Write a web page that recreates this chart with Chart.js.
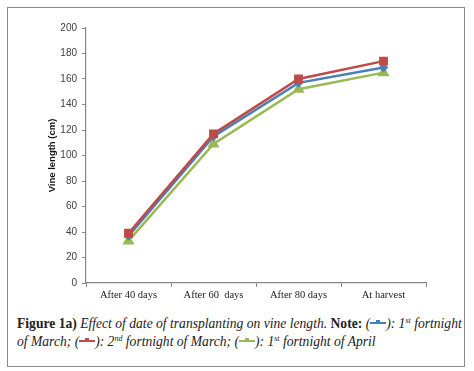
<!DOCTYPE html>
<html>
<head>
<meta charset="utf-8">
<script src="https://cdn.jsdelivr.net/npm/chart.js@4"></script>
<style>
  html, body { margin: 0; padding: 0; background: #fff; }
  body { width: 474px; height: 371px; position: relative; overflow: hidden; }
  .frame {
    position: absolute; left: 7px; top: 7px; width: 456px; height: 358px;
    border: 1.5px solid #8a8a8a;
  }
  .plot { position: absolute; left: 0; top: 0; width: 474px; height: 305px; }
  .caption {
    position: absolute; left: 17px; top: 315px; width: 452px;
    font-family: "Liberation Serif", "DejaVu Serif", serif;
    font-size: 13.6px; line-height: 18px; color: #222; white-space: nowrap;
  }
  .caption i { font-style: italic; }
  .caption sup { font-size: 8px; vertical-align: 5px; line-height: 0; }
  .mk { display: inline-block; position: relative; width: 16px; height: 2px; vertical-align: 4px; }
  .mk::after { content: ""; position: absolute; left: 6px; top: -2px; width: 4px; height: 4px; background: inherit; }
  .mk.blue { background: #4a7ebb; }
  .mk.red { background: #be4b48; }
  .mk.green { background: #98b954; }
</style>
</head>
<body>
<div class="frame"></div>
<div class="plot"><canvas id="chart" width="474" height="305"></canvas></div>
<div class="caption"><b>Figure 1a)</b> <i>Effect of date of transplanting on vine length.</i> <b>Note:</b> <i>(<span class="mk blue"></span>): 1<sup>st</sup> fortnight</i><br><i>of March; (<span class="mk red"></span>): 2<sup>nd</sup> fortnight of March; (<span class="mk green"></span>): 1<sup>st</sup> fortnight of April</i></div>
<script>
// stages of growth on the x axis
const categories = ["After 40 days", "After 60  days", "After 80 days", "At harvest"]

// vine length (cm) per transplanting date
const firstMarch  = [37, 115, 157, 169]
const secondMarch = [39, 117, 160, 174]
const firstApril  = [33, 109, 152, 165]

const yTicks = [0, 20, 40, 60, 80, 100, 120, 140, 160, 180, 200]

const BLUE  = "#4a7ebb"
const RED   = "#be4b48"
const GREEN = "#98b954"

const chart = new Chart(document.getElementById("chart"), {
  type: "line",
  data: {
    labels: categories,
    datasets: [
      {
        label: "1st fortnight of March",
        data: firstMarch,
        borderColor: BLUE, backgroundColor: BLUE,
        borderWidth: 2.5, pointStyle: "rectRot", pointRadius: 3,
        order: 1,
      },
      {
        label: "2nd fortnight of March",
        data: secondMarch,
        borderColor: RED, backgroundColor: RED,
        borderWidth: 2.5, pointStyle: "rect", pointRadius: 4.5,
        order: 0,
      },
      {
        label: "1st fortnight of April",
        data: firstApril,
        borderColor: GREEN, backgroundColor: GREEN,
        borderWidth: 2.5, pointStyle: "triangle", pointRadius: 4.5,
        order: 2,
      },
    ],
  },
  options: {
    responsive: false,
    animation: false,
    layout: { padding: { left: 46, right: 48, top: 28, bottom: 0 } },
    plugins: { legend: { display: false }, tooltip: { enabled: false } },
    scales: {
      x: {
        offset: true,
        afterFit: (s) => { s.height = 22 },
        grid: { offset: true, drawOnChartArea: false, drawTicks: true, tickLength: 4, color: "#868686" },
        border: { color: "#868686", width: 1.2 },
        ticks: {
          color: "#222",
          padding: 2,
          font: { family: "Liberation Serif", size: 10.5 },
          maxRotation: 0,
        },
      },
      y: {
        min: 0, max: 200,
        afterFit: (s) => { s.width = 40 },
        afterBuildTicks: (s) => { s.ticks = yTicks.map(v => ({ value: v })) },
        grid: { drawOnChartArea: false, drawTicks: true, tickLength: 4, color: "#868686" },
        border: { color: "#868686", width: 1.2 },
        ticks: {
          color: "#404040",
          padding: 5,
          font: { family: "Liberation Sans", size: 10 },
        },
        title: {
          display: true,
          text: "Vine length (cm)",
          color: "#111",
          padding: { top: 1, bottom: 0 },
          font: { family: "Liberation Sans", size: 9.5, weight: "bold" },
        },
      },
    },
  },
})
</script>
</body>
</html>
